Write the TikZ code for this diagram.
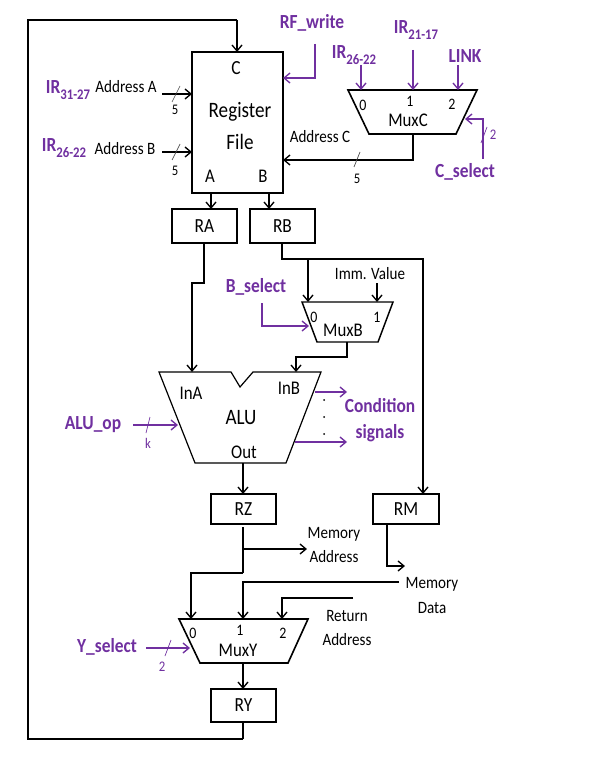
\documentclass[tikz,border=0pt]{standalone}
\usepackage{fontspec}
\setmainfont{Carlito}[FakeStretch=0.87]
\usetikzlibrary{arrows.meta}
\definecolor{pur}{HTML}{7030A0}
\newcommand{\fsz}[1]{\fontsize{#1}{#1}\selectfont}
\newcommand{\subs}[1]{\raisebox{-0.32em}{\fontsize{11}{11}\selectfont #1}}
\tikzset{
  >={Straight Barb[length=4.5pt,width=7.5pt,line width=1pt]},
  boxn/.style={draw=black,line width=1.3pt,inner sep=0pt},
  wire/.style={draw=black,line width=1.1pt,->},
  plainwire/.style={draw=black,line width=1.1pt},
  cwire/.style={draw=pur,line width=1.1pt,->},
  muxshape/.style={draw=black,line width=1.2pt,line join=miter},
  lab/.style={inner sep=0pt,font=\fsz{13}},
  digit/.style={inner sep=0pt,font=\fsz{12}},
  reglab/.style={inner sep=0pt,font=\fsz{15}},
  midlab/.style={inner sep=0pt,font=\fsz{14.5}},
  biglab/.style={inner sep=0pt,font=\fsz{16.5}},
  tiny/.style={inner sep=0pt,font=\fsz{11}},
  plab/.style={inner sep=0pt,text=pur,font=\fsz{15}\bfseries},
  slashk/.style={draw=black!70,line width=.5pt},
  slashp/.style={draw=pur,line width=.5pt},
}
\newcommand{\bx}[6]{\node[boxn,minimum width=#4*.75pt,minimum height=#5*.75pt,#6] (#1) at (#2,#3) {};}
\begin{document}
\begin{tikzpicture}[x=0.75pt,y=-0.75pt]
\useasboundingbox (0,0) rectangle (593,759);
\fill[white] (0,0) rectangle (593,759);

% free-end and bend coordinates
\foreach \n/\x/\y in {
 tl/28/20, tr/237/20, bl/28/739, br/243/739,
 addra/162/94, addrb/162/152, rfa/192/94, rfb/192/152, rfc/283/160, rfw/283/78, rfwS/315/44, rfwB/315/78,
 cs/483/159, csB/483/119, csE/465/119,
 c0s/361/65, c1s/413/50, c2s/458/65, c0e/361/90, c1e/413/90, c2e/458/90, cout/413/134, coutB/413/160,
 raout/204/243, ra1/204/283, ra2/192/283, alua/192/372,
 rbout/282/243, rb1/282/259, rb2/423/259, rme/423/494, brn/308/259, b0e/308/302,
 imms/377/283, imme/377/302, bsS/262/303, bsB/262/326, bsE/309/326,
 bout/347/342, bo1/347/357, bo2/296/357, alub/296/372,
 aluo/243/463, rzi/243/494, opS/133/425, opE/178/425,
 c1a/315/392, c1b/347/392, c2a/295/442, c2b/347/442,
 rzo/243/527, zbr/243/549, mema/307/549, z1/243/573, z2/191/573, y0e/191/619,
 rmo/387/524, rm1/387/566, rm2/405/566,
 mds/399/582, md1/243/582, y1e/243/619, ras/353/598, ra3/282/598, y2e/282/619,
 ys/146/648, ye/190/648, yo/243/663, ryi/243/689, ryo/243/722,
 ra/211/193, rai/211/209, rb/269/193, rbi/269/209}
 {\coordinate (\n) at (\x,\y);}

% boxes
\node[boxn,minimum width=68.25pt,minimum height=105.75pt] (rf) at (237.2,122.5) {};
\bx{RA}{204.5}{226}{65}{34}{}
\bx{RB}{282.5}{226}{65}{34}{}
\bx{RZ}{243.5}{509}{65}{30}{}
\bx{RM}{406}{509}{66}{30}{}
\bx{RY}{243.5}{705.5}{65}{33}{}
\node[reglab] (tRA) at (RA) {RA};
\node[reglab] (tRB) at (RB) {RB};
\node[reglab] (tRZ) at (RZ) {RZ};
\node[reglab] (tRM) at (RM) {RM};
\node[reglab] (tRY) at (RY) {RY};

% mux shapes
\draw[muxshape] (348,90) -- (477,90) -- (456,134) -- (369,134) -- cycle;
\draw[muxshape,line width=1.1pt] (302,302) -- (393,302) -- (378,342) -- (317,342) -- cycle;
\draw[muxshape,line width=.9pt] (159,372) -- (231,372) -- (240,387) -- (253,372) -- (321,372) -- (286,463) -- (195,463) -- cycle;
\draw[muxshape] (179,619) -- (308,619) -- (288,663) -- (200,663) -- cycle;

% data connectors
\draw[wire] (tr) -- (237,52);
\draw[plainwire] (br) -- (bl) -- (tl) -- (tr);
\draw[plainwire] (ryo) -- (br);
\draw[wire] (addra) -- (rfa);
\draw[wire] (addrb) -- (rfb);
\draw[wire] (ra) -- (rai);
\draw[wire] (rb) -- (rbi);
\draw[wire] (cout) -- (coutB) -- (rfc);
\draw[wire,line width=.9pt] (raout) -- (ra1) -- (ra2) -- (alua);
\draw[wire] (rbout) -- (rb1) -- (rb2) -- (rme);
\draw[wire,line width=.9pt] (brn) -- (b0e);
\draw[wire] (imms) -- (imme);
\draw[wire] (bout) -- (bo1) -- (bo2) -- (alub);
\draw[wire] (aluo) -- (rzi);
\draw[plainwire] (rzo) -- (z1);
\draw[wire] (zbr) -- (mema);
\draw[wire] (z1) -- (z2) -- (y0e);
\draw[wire,line width=.9pt] (rmo) -- (rm1) -- (rm2);
\draw[wire] (mds) -- (md1) -- (y1e);
\draw[wire] (ras) -- (ra3) -- (y2e);
\draw[wire] (yo) -- (ryi);

% control connectors
\draw[cwire,line width=.8pt] (rfwS) -- (rfwB) -- (rfw);
\draw[cwire] (c0s) -- (c0e);
\draw[cwire] (c1s) -- (c1e);
\draw[cwire] (c2s) -- (c2e);
\draw[cwire,line width=.8pt] (cs) -- (csB) -- (csE);
\draw[cwire] (bsS) -- (bsB) -- (bsE);
\draw[cwire] (opS) -- (opE);
\draw[cwire] (c1a) -- (c1b);
\draw[cwire] (c2a) -- (c2b);
\draw[cwire] (ys) -- (ye);

% bus slashes
\draw[slashk] (172,102) -- (180,86);
\draw[slashk] (172,160) -- (180,144);
\draw[slashk] (354,167) -- (360,152);
\draw[slashp] (481,143) -- (487,127);
\draw[slashp] (146,433) -- (150,417);
\draw[slashp] (165,656) -- (171,640);

% dots
\foreach \y in {400,417,434} \fill (324,\y) circle (1);

% register file labels
\node[reglab] (lC) at (236,68) {C};
\node[biglab] (lreg) at (240,112) {Register};
\node[biglab] (lfile) at (240,142) {File};
\node[midlab] (lA) at (210,176) {A};
\node[midlab] (lB) at (263,176) {B};
\node[lab] (addA) at (126,87) {Address A};
\node[lab] (addB) at (125,149) {Address B};
\node[lab] (addC) at (320,137) {Address C};
\node[tiny] (n5a) at (175,110) {5};
\node[tiny] (n5b) at (175,171) {5};
\node[tiny] (n5c) at (357,179) {5};
\node[plab] (ir1) at (68,90) {IR\subs{31-27}};
\node[plab] (ir2) at (64,148) {IR\subs{26-22}};
\node[plab] (rfwl) at (312,23) {RF\_write};
\node[plab] (ir3) at (354,55) {IR\subs{26-22}};
\node[plab] (ir4) at (416,30) {IR\subs{21-17}};
\node[plab] (link) at (465,56) {LINK};
\node[plab] (csel) at (465,172) {C\_select};
\node[digit] (c0) at (363,105) {0};
\node[digit] (c1) at (410,101) {1};
\node[digit] (c2) at (452,104) {2};
\node[midlab] (mc) at (408,120) {MuxC};
\node[tiny,text=pur] (n2c) at (493,135) {2};

% mux B / ALU labels
\node[lab] (imm) at (370,274) {Imm. Value};
\node[plab] (bsel) at (256,287) {B\_select};
\node[digit] (b0) at (314,317) {0};
\node[digit] (b1) at (377,317) {1};
\node[midlab] (mb) at (343,330) {MuxB};
\node[midlab] (ina) at (191,393) {InA};
\node[midlab] (inb) at (289,388) {InB};
\node[biglab] (alu) at (241,418) {ALU};
\node[midlab] (out) at (244,452) {Out};
\node[plab] (aop) at (93,425) {ALU\_op};
\node[tiny,text=pur] (k) at (148,443) {k};
\node[plab] (cond) at (380,406) {Condition};
\node[plab] (sig) at (380,433) {signals};

% bottom labels
\node[lab] (ma1) at (334,534) {Memory};
\node[lab] (ma2) at (334,557) {Address};
\node[lab] (md1t) at (432,584) {Memory};
\node[lab] (md2t) at (432,608) {Data};
\node[lab] (ra1t) at (347,616) {Return};
\node[lab] (ra2t) at (347,640) {Address};
\node[digit] (y0) at (193,633) {0};
\node[digit] (y1) at (240,630) {1};
\node[digit] (y2) at (283,633) {2};
\node[midlab] (my) at (238,650) {MuxY};
\node[plab] (ysel) at (107,647) {Y\_select};
\node[tiny,text=pur] (n2y) at (162,667) {2};
\end{tikzpicture}
\end{document}
